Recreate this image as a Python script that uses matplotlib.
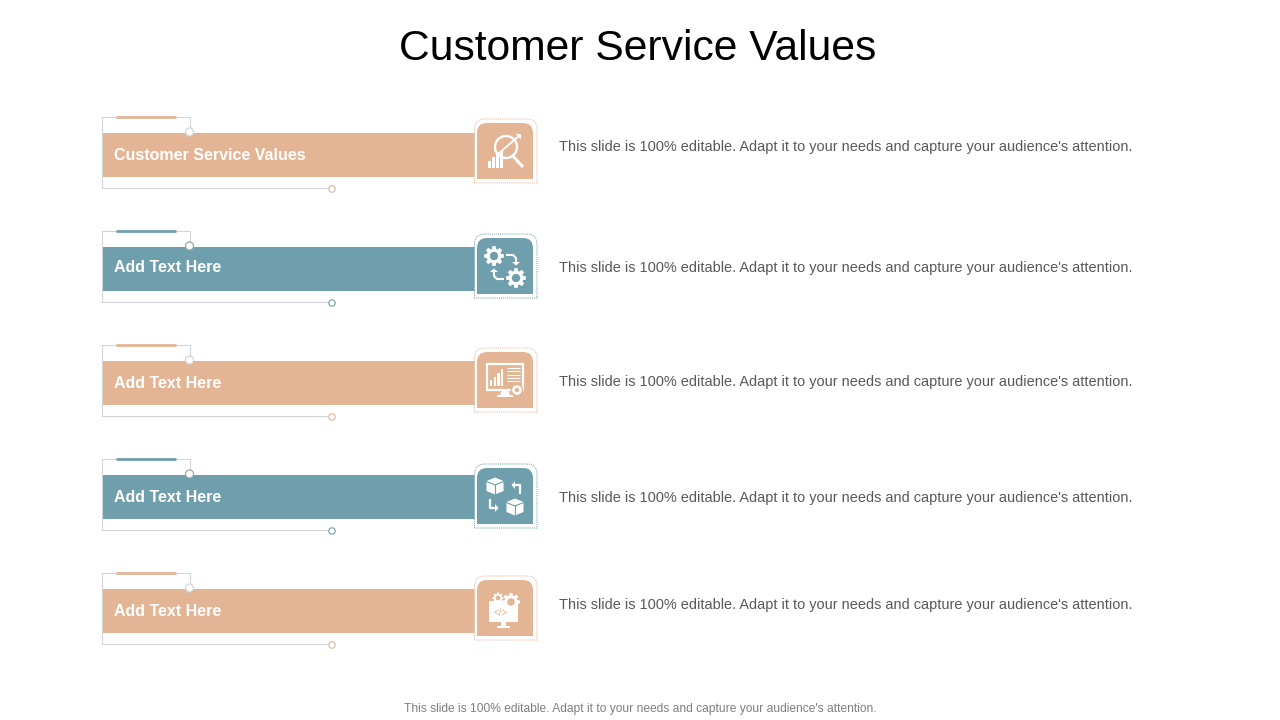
import numpy as np
import matplotlib
matplotlib.use("Agg")
import matplotlib.pyplot as plt
from matplotlib.path import Path
from matplotlib.patches import PathPatch, Rectangle, Circle, Polygon

plt.rcParams['font.family'] = ['Liberation Sans', 'DejaVu Sans']

title = "Customer Service Values"
labels = ["Customer Service Values", "Add Text Here", "Add Text Here", "Add Text Here", "Add Text Here"]
description = "This slide is 100% editable. Adapt it to your needs and capture your audience's attention."
footer = "This slide is 100% editable. Adapt it to your needs and capture your audience's attention."
row_colors = ["#E3B595", "#6F9FAC", "#E3B595", "#6F9FAC", "#E3B595"]

# layout in pixels, y goes down
bar_tops = [133, 247, 361, 475, 589]
label_ys = [155.5, 267.5, 383.5, 497.5, 611.5]
desc_ys = [147.5, 268, 382, 498, 605]
tile_tops = [123, 238, 352, 468, 580]

LINE = "#D2D5D7"

fig = plt.figure(figsize=(12.8, 7.2), dpi=100)
ax = fig.add_axes([0, 0, 1, 1])
ax.set_xlim(0, 1280)
ax.set_ylim(720, 0)
ax.axis("off")


def top_round_box(x0, y0, x1, y1, r):
    verts = [(x0, y1), (x0, y0 + r), (x0, y0), (x0 + r, y0), (x1 - r, y0),
             (x1, y0), (x1, y0 + r), (x1, y1), (x0, y1)]
    codes = [Path.MOVETO, Path.LINETO, Path.CURVE3, Path.CURVE3, Path.LINETO,
             Path.CURVE3, Path.CURVE3, Path.LINETO, Path.CLOSEPOLY]
    return Path(verts, codes)


def gear(cx, cy, r, color):
    n = 8
    pts = []
    for i in range(n):
        a = 2 * np.pi * i / n
        w = np.pi / n * 0.55
        for da, rr in [(-w * 1.3, r * 0.74), (-w * 0.8, r), (w * 0.8, r), (w * 1.3, r * 0.74)]:
            pts.append((cx + rr * np.cos(a + da), cy + rr * np.sin(a + da)))
    ax.add_patch(Polygon(pts, closed=True, fc="white", ec="none", zorder=5))
    ax.add_patch(Circle((cx, cy), r * 0.42, fc=color, ec="none", zorder=6))


def stroke(xs, ys, lw=1.5, z=5):
    ax.plot(xs, ys, color="white", lw=lw, solid_capstyle="butt", zorder=z)


def arrow(xs, ys, lw=1.5):
    stroke(xs, ys, lw)
    dx, dy = xs[-1] - xs[-2], ys[-1] - ys[-2]
    n = np.hypot(dx, dy)
    dx, dy = dx / n, dy / n
    tip = (xs[-1] + dx * 2.5, ys[-1] + dy * 2.5)
    ax.add_patch(Polygon([tip, (xs[-1] - dy * 4 - dx, ys[-1] + dx * 4 - dy),
                          (xs[-1] + dy * 4 - dx, ys[-1] - dx * 4 - dy)],
                         fc="white", ec="none", zorder=5))


def box_icon(cx, cy, color):
    ax.add_patch(Polygon([(cx - 8.5, cy - 5), (cx, cy - 8.5), (cx + 8.5, cy - 5), (cx + 8.5, cy + 5),
                          (cx, cy + 8.5), (cx - 8.5, cy + 5)], fc="white", ec="none", zorder=5))
    ax.plot([cx, cx], [cy - 1, cy + 8.5], color=color, lw=0.8, zorder=6)
    ax.plot([cx - 8.5, cx, cx + 8.5], [cy - 4.5, cy - 1, cy - 4.5], color=color, lw=0.8, zorder=6)


def icon_search(cx, cy, color):
    ax.add_patch(Circle((cx + 1, cy - 5), 11, fc="none", ec="white", lw=1.7, zorder=5))
    stroke([cx + 7, cx + 18], [cy + 3, cy + 15], 2.2)
    arrow([cx - 7, cx + 14], [cy + 2, cy - 16], 1.3)
    for i, h in enumerate([7, 11, 14, 17]):
        ax.add_patch(Rectangle((cx - 17 + i * 3.9, cy + 16 - h), 3.2, h, fc="white", ec="none", zorder=6))


def icon_gears(cx, cy, color):
    gear(cx - 11, cy - 11, 10, color)
    gear(cx + 11, cy + 11, 10, color)
    arrow([cx + 1, cx + 8, cx + 11, cx + 11], [cy - 12, cy - 12, cy - 9, cy - 4])
    arrow([cx - 1, cx - 8, cx - 11, cx - 11], [cy + 12, cy + 12, cy + 9, cy + 4])


def icon_monitor(cx, cy, color):
    ax.add_patch(Rectangle((cx - 18, cy - 17), 36, 26, fc="none", ec="white", lw=1.6, zorder=5))
    for i, h in enumerate([6, 9, 13, 17]):
        ax.add_patch(Rectangle((cx - 15 + i * 3.6, cy + 5 - h), 2.4, h, fc="white", ec="none", zorder=5))
    for i in range(5):
        stroke([cx + 2, cx + 15], [cy - 13 + i * 3.3, cy - 13 + i * 3.3], 0.8)
    ax.add_patch(Polygon([(cx - 3, cy + 9), (cx + 3, cy + 9), (cx + 5, cy + 14), (cx + 8, cy + 14),
                          (cx + 8, cy + 16), (cx - 8, cy + 16), (cx - 8, cy + 14), (cx - 5, cy + 14)],
                         fc="white", ec="none", zorder=5))
    ax.add_patch(Circle((cx + 12, cy + 9), 5.5, fc="white", ec=color, lw=1, zorder=6))
    ax.add_patch(Circle((cx + 12, cy + 9), 2.2, fc=color, ec="none", zorder=7))


def icon_boxes(cx, cy, color):
    box_icon(cx - 10, cy - 11, color)
    box_icon(cx + 10, cy + 10, color)
    arrow([cx + 15, cx + 15, cx + 9], [cy - 3, cy - 12, cy - 12], 1.6)
    arrow([cx - 15, cx - 15, cx - 9], [cy + 2, cy + 11, cy + 11], 1.6)


def icon_code(cx, cy, color):
    ax.add_patch(Rectangle((cx - 16, cy - 8), 29, 21, fc="white", ec="none", zorder=5))
    ax.text(cx - 4, cy + 4, "</>", color=color, fontsize=7, ha="center", va="center", zorder=7)
    ax.add_patch(Rectangle((cx - 4, cy + 13), 5, 4, fc="white", ec="none", zorder=5))
    ax.add_patch(Rectangle((cx - 8, cy + 16.5), 13, 2, fc="white", ec="none", zorder=5))
    gear(cx + 6, cy - 7, 9, color)
    gear(cx - 7, cy - 11, 5.5, color)


icons = [icon_search, icon_gears, icon_monitor, icon_boxes, icon_code]

ax.text(637.5, 49, title, fontsize=30.7, color="black", ha="center", va="center")

for i in range(len(labels)):
    col = row_colors[i]
    top = bar_tops[i]
    ttop = tile_tops[i]

    # bracket lines around the bar
    ax.plot([190, 190, 102, 102, 332], [top - 1, top - 16, top - 16, top + 55, top + 55],
            color=LINE, lw=0.8, zorder=1)
    ax.plot([116, 176], [top - 16, top - 16], color=col, lw=2, solid_capstyle="butt", zorder=2)
    ax.add_patch(Rectangle((103, top), 372, 44, fc=col, ec="none", zorder=3))
    ax.add_patch(Circle((189.5, top - 1), 4, fc="white", ec=LINE if i % 2 == 0 else "#9AA8AD", lw=0.9, zorder=4))
    ax.add_patch(Circle((332, top + 56), 3.2, fc="white", ec=col, lw=0.8, zorder=4))

    # icon tile with the dotted outline
    ax.add_patch(PathPatch(top_round_box(474.5, ttop - 4, 537, ttop + 60, 10), fc="white",
                           ec=col, lw=0.7, ls=(0, (1, 1)), zorder=3))
    ax.add_patch(PathPatch(top_round_box(477, ttop, 533, ttop + 56, 10), fc=col, ec="none", zorder=4))
    icons[i](505, ttop + 29, col)

    ax.text(114, label_ys[i], labels[i], fontsize=11.5, fontweight="bold", color="white", va="center", zorder=5)
    ax.text(559, desc_ys[i], description, fontsize=10.44, color="#595959", va="center")

ax.text(640, 709, footer, fontsize=8.65, color="#7F7F7F", ha="center", va="center")

fig.savefig("out.png", dpi=100)
